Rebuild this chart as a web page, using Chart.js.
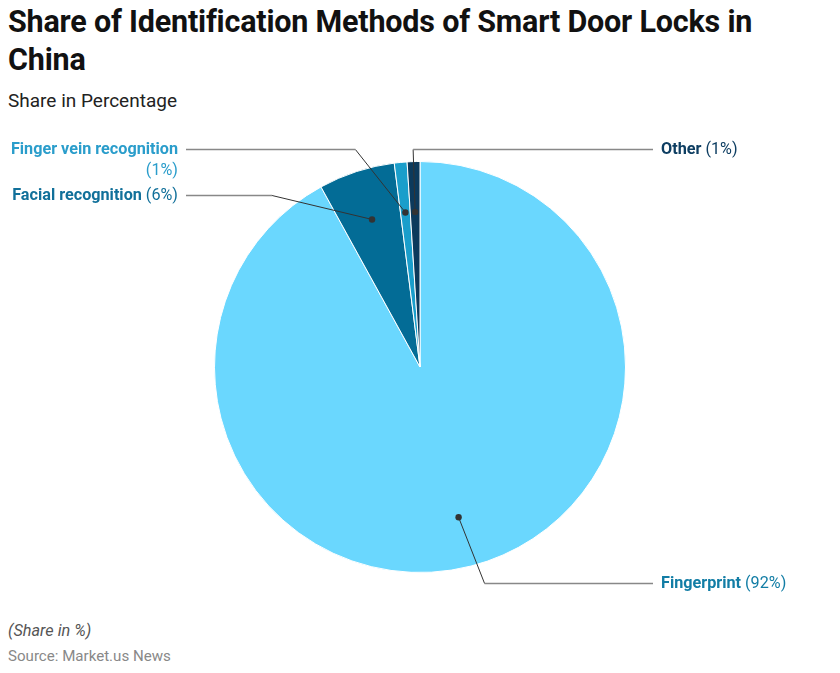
<!DOCTYPE html>
<html>
<head>
<meta charset="utf-8">
<script src="https://cdn.jsdelivr.net/npm/chart.js@4.4.0/dist/chart.umd.min.js"></script>
<style>
  body { margin: 0; background: #fff; font-family: Roboto, sans-serif; }
  #wrap { position: relative; width: 840px; height: 673px; overflow: hidden; }
  #title { position: absolute; left: 8px; top: 3px; width: 790px; font-size: 30.5px; font-weight: 700; line-height: 38px; color: #111; letter-spacing: -0.2px; }
  #sub { position: absolute; left: 8px; top: 89px; font-size: 19px; color: #222; }
  #note { position: absolute; left: 8px; top: 621px; font-size: 16.3px; font-style: italic; color: #555; }
  #src { position: absolute; left: 8px; top: 647px; font-size: 15.1px; color: #888; }
  #box { position: absolute; left: 0; top: 120px; width: 840px; height: 495px; }
</style>
</head>
<body>
<div id="wrap">
  <div id="title">Share of Identification Methods of Smart Door Locks in China</div>
  <div id="sub">Share in Percentage</div>
  <div id="box"><canvas id="pie"></canvas></div>
  <div id="note">(Share in %)</div>
  <div id="src">Source: Market.us News</div>
</div>
<script>
// data
let methods = ['Fingerprint', 'Facial recognition', 'Finger vein recognition', 'Other']
let shares = [92, 6, 1, 1]
let sliceColors = ['#6AD7FE', '#036C96', '#1A9ECB', '#0C3A5C']
let labelColors = ['#127DA5', '#11709A', '#2A9DCB', '#0E3E62']

// where each label goes (left/right side, y relative to pie, elbow offset from dot)
let labelSpots = [
  { side: 'right', dy: function (r) { return r + 11 }, ex: 26 },
  { side: 'left', dy: function (r) { return -r + 34 }, ex: -100 },
  { side: 'left', dy: function (r) { return -r - 12 }, ex: -50, wrap: true },
  { side: 'right', dy: function (r) { return -r - 12 }, ex: -2 }
]

const leaderPlugin = {
  id: 'leaders',
  afterDraw: function (chart) {
    let ctx = chart.ctx
    let meta = chart.getDatasetMeta(0)
    meta.data.forEach(function (arc, i) {
      let p = arc.getProps(['x', 'y', 'startAngle', 'endAngle', 'outerRadius'], true)
      let mid = (p.startAngle + p.endAngle) / 2
      let r = p.outerRadius
      let dx = p.x + Math.cos(mid) * r * 0.755
      let dy = p.y + Math.sin(mid) * r * 0.755
      let spot = labelSpots[i]
      let ly = p.y + spot.dy(r)
      let ex = dx + spot.ex
      let endX = spot.side === 'right' ? p.x + 233 : p.x - 234

      ctx.save()
      ctx.strokeStyle = '#333'
      ctx.lineWidth = 1
      ctx.beginPath()
      ctx.moveTo(dx, dy)
      ctx.lineTo(ex, ly)
      ctx.stroke()
      ctx.strokeStyle = '#888'
      ctx.lineWidth = 1.5
      ctx.beginPath()
      ctx.moveTo(ex, ly)
      ctx.lineTo(endX, ly)
      ctx.stroke()
      ctx.fillStyle = '#333'
      ctx.beginPath()
      ctx.arc(dx, dy, 3.2, 0, Math.PI * 2)
      ctx.fill()

      // label text
      let name = methods[i]
      let pct = '(' + shares[i] + '%)'
      ctx.textBaseline = 'middle'
      ctx.fillStyle = labelColors[i]
      let bold = 'bold 16.2px Roboto'
      let reg = '16.2px Roboto'
      if (spot.side === 'right') {
        let tx = endX + 8
        ctx.font = bold
        ctx.textAlign = 'left'
        ctx.fillText(name, tx, ly)
        let w = ctx.measureText(name + ' ').width
        ctx.font = reg
        ctx.fillText(pct, tx + w, ly)
      } else {
        let tx = endX - 8
        ctx.textAlign = 'right'
        if (spot.wrap) {
          ctx.font = bold
          ctx.fillText(name, tx, ly)
          ctx.font = reg
          ctx.fillText(pct, tx, ly + 21)
        } else {
          ctx.font = reg
          ctx.fillText(pct, tx, ly)
          let w = ctx.measureText(' ' + pct).width
          ctx.font = bold
          ctx.fillText(name, tx - w, ly)
        }
      }
      ctx.restore()
    })
  }
}

var ctx = document.getElementById('pie').getContext('2d')
var myChart = new Chart(ctx, {
  type: 'pie',
  data: {
    labels: methods,
    datasets: [{
      data: shares,
      backgroundColor: sliceColors,
      borderColor: '#ffffff',
      borderWidth: 1
    }]
  },
  options: {
    responsive: true,
    maintainAspectRatio: false,
    animation: false,
    layout: { padding: { top: 41, bottom: 42 } },
    plugins: {
      legend: { display: false },
      tooltip: { enabled: false }
    }
  },
  plugins: [leaderPlugin]
})
</script>
</body>
</html>
